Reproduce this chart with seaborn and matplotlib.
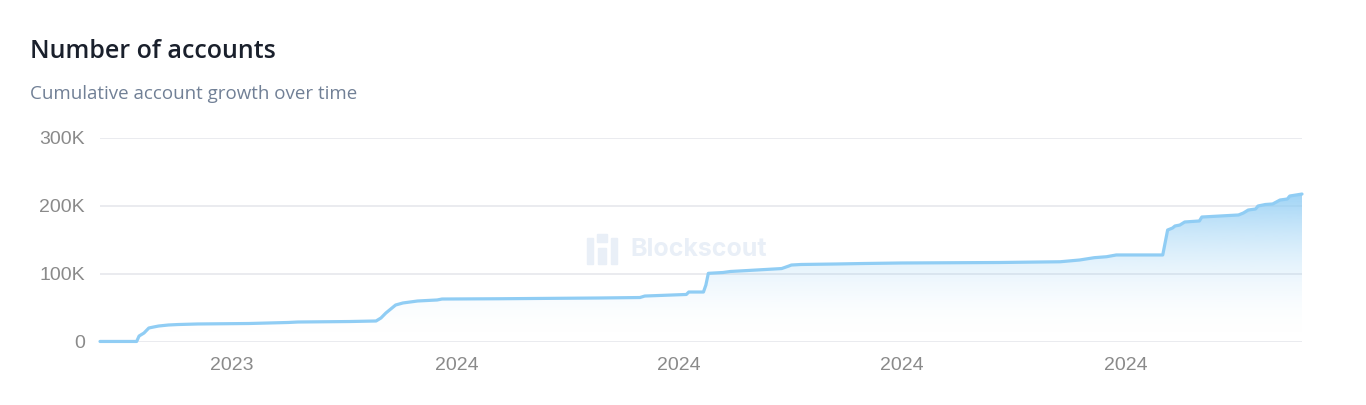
import numpy as np
import pandas as pd
import matplotlib
matplotlib.use('Agg')
import matplotlib.pyplot as plt
import matplotlib.dates as mdates
from matplotlib.ticker import FuncFormatter
from matplotlib.patches import Rectangle
import seaborn as sns

# cumulative accounts (thousands)
dates = [
    "2023-08-08", "2023-08-23", "2023-08-24", "2023-08-26", "2023-08-28", "2023-08-30",
    "2023-09-01", "2023-09-05", "2023-09-09", "2023-09-17", "2023-10-08", "2023-10-24",
    "2023-10-28", "2023-11-18", "2023-11-29", "2023-12-01", "2023-12-03", "2023-12-05",
    "2023-12-07", "2023-12-10", "2023-12-16", "2023-12-24", "2023-12-26", "2024-01-18",
    "2024-02-28", "2024-03-16", "2024-03-18", "2024-04-04", "2024-04-05", "2024-04-11",
    "2024-04-12", "2024-04-13", "2024-04-19", "2024-04-22", "2024-04-29", "2024-05-13",
    "2024-05-16", "2024-05-17", "2024-05-21", "2024-06-04", "2024-06-15", "2024-07-01",
    "2024-08-10", "2024-09-04", "2024-09-12", "2024-09-18", "2024-09-23", "2024-09-27",
    "2024-10-16", "2024-10-18", "2024-10-20", "2024-10-21", "2024-10-23", "2024-10-25",
    "2024-10-31", "2024-11-01", "2024-11-16", "2024-11-18", "2024-11-20", "2024-11-23",
    "2024-11-24", "2024-11-27", "2024-11-30", "2024-12-03", "2024-12-06", "2024-12-07",
    "2024-12-11", "2024-12-12",
]
accounts_k = [
    0.8, 0.8, 8.8, 13.2, 20.6, 22.1,
    23.5, 25.0, 25.7, 26.5, 27.2, 28.7,
    29.4, 30.1, 30.9, 35.3, 42.6, 48.5,
    54.4, 57.4, 60.3, 61.8, 63.2, 63.6,
    64.7, 65.4, 67.6, 69.9, 73.5, 73.5,
    83.8, 101.0, 102.2, 103.7, 105.1, 108.0,
    111.8, 113.2, 114.0, 114.7, 115.4, 116.2,
    116.9, 118.0, 120.6, 124.0, 125.4, 128.0,
    128.0, 164.7, 167.6, 170.6, 172.0, 176.5,
    178.0, 183.8, 186.8, 189.7, 194.1, 195.6,
    200.0, 202.2, 203.0, 208.8, 210.3, 214.7,
    217.0, 217.6,
]

title = "Number of accounts"
subtitle = "Cumulative account growth over time"
tick_dates = ["2023-10-01", "2024-01-01", "2024-04-01", "2024-07-01", "2024-10-01"]
y_ticks = [0, 100000, 200000, 300000]

df = pd.DataFrame({"date": pd.to_datetime(dates), "accounts": np.array(accounts_k) * 1000})

sns.set_theme(style="white")
plt.rcParams['font.family'] = ['Liberation Sans', 'DejaVu Sans']

line_color = "#90cdf4"
fig = plt.figure(figsize=(13.66, 4.05), dpi=100)
ax = fig.add_axes([100 / 1366, 63 / 405, 1202 / 1366, 204 / 405])

sns.lineplot(data=df, x="date", y="accounts", ax=ax, color=line_color,
             linewidth=2.3, clip_on=False, zorder=4)

# gradient area under the curve
x = mdates.date2num(df["date"])
y = df["accounts"].values
fill = ax.fill_between(x, y, 0, color="none", linewidth=0)
ymax = y.max()
ramp = np.linspace(1, 0, 256)[:, None]
rgba = np.zeros((256, 1, 4))
rgba[..., :3] = matplotlib.colors.to_rgb(line_color)
rgba[..., 3] = 0.85 * ramp ** 2
img = ax.imshow(rgba, extent=[x.min(), x.max(), 0, ymax], aspect="auto",
                origin="upper", zorder=2, interpolation="bilinear")
img.set_clip_path(fill.get_paths()[0], transform=ax.transData)

ax.set_xlim(x.min(), x.max())
ax.set_ylim(0, 300000)
ax.set_yticks(y_ticks)
ax.yaxis.set_major_formatter(FuncFormatter(lambda v, p: "0" if v == 0 else f"{int(v / 1000)}K"))
ax.set_xticks(mdates.date2num(pd.to_datetime(tick_dates)))
ax.xaxis.set_major_formatter(mdates.DateFormatter("%Y"))
ax.grid(axis="y", color="#e6e8ec", linewidth=1.2, zorder=0)
ax.grid(axis="x", visible=False)
for s in ax.spines.values():
    s.set_visible(False)
ax.tick_params(axis="both", length=0, labelsize=14, colors="#8a8a8a")
ax.tick_params(axis="x", pad=11)
ax.tick_params(axis="y", pad=11)
ax.set_xlabel("")
ax.set_ylabel("")
ax.set_axisbelow(True)

# watermark
fig.text(630 / 1366, 1 - 249 / 405, "Blockscout", fontsize=18, fontweight="bold",
         color="#e9eff7", ha="left", va="center", family=["Inter", "DejaVu Sans"], zorder=1)
for (lx, ly, w, h) in [(587, 238, 6, 26), (611, 238, 6, 26), (597, 234, 10, 8), (598, 248, 8, 16)]:
    fig.patches.append(Rectangle((lx / 1366, 1 - (ly + h) / 405), w / 1366, h / 405,
                                 transform=fig.transFigure, color="#e9eff7", zorder=1))

fig.text(30 / 1366, 1 - 51 / 405, title, fontsize=18, fontweight="semibold",
         color="#1a202c", ha="left", va="center", family=["Open Sans", "DejaVu Sans"])
fig.text(30 / 1366, 1 - 94 / 405, subtitle, fontsize=13.5, color="#718096",
         ha="left", va="center", family=["Open Sans", "DejaVu Sans"])

fig.savefig("out.png", dpi=100)
